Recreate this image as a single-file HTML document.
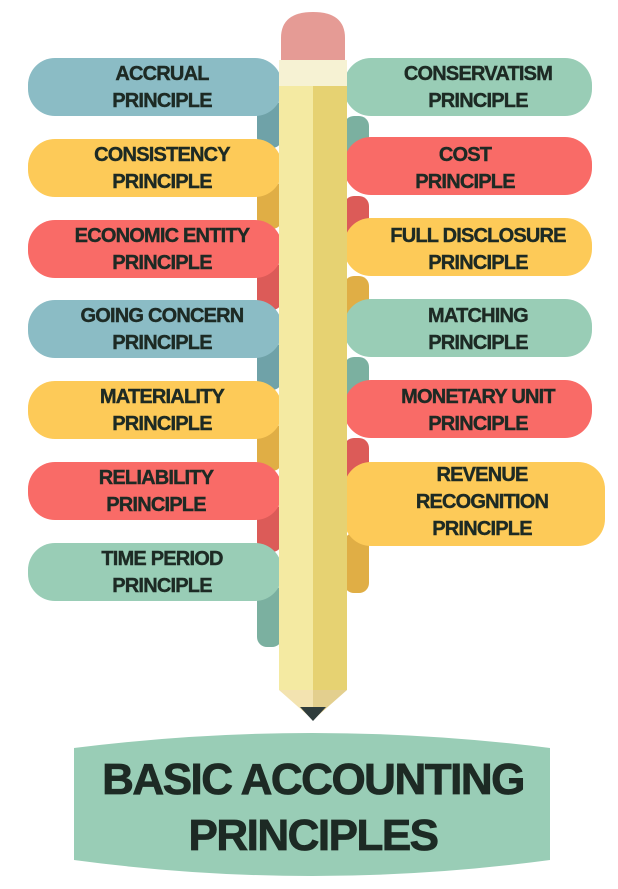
<!DOCTYPE html>
<html><head><style>body{margin:0;background:#fff}svg{display:block}</style></head><body>
<svg width="618" height="889" viewBox="0 0 618 889" xmlns="http://www.w3.org/2000/svg">
<defs><style>text{font-family:"Liberation Sans",sans-serif;font-weight:bold;font-size:20px;fill:#1d2a24;text-anchor:middle;letter-spacing:-0.8px;stroke:#1d2a24;stroke-width:0.4}</style></defs>
<g>
<rect x="257" y="100" width="25" height="48" rx="10" fill="#6fa2a8"/>
<rect x="257" y="181" width="25" height="48" rx="10" fill="#e0ae45"/>
<rect x="257" y="262" width="25" height="48" rx="10" fill="#dc5b58"/>
<rect x="257" y="342" width="25" height="48" rx="10" fill="#6fa2a8"/>
<rect x="257" y="423" width="25" height="48" rx="10" fill="#e0ae45"/>
<rect x="257" y="504" width="25" height="48" rx="10" fill="#dc5b58"/>
<rect x="257" y="585" width="25" height="62" rx="10" fill="#7bb0a0"/>
</g>
<g>
<rect x="344" y="116" width="25" height="48" rx="10" fill="#7bb0a0"/>
<rect x="344" y="196" width="25" height="48" rx="10" fill="#dc5b58"/>
<rect x="344" y="276" width="25" height="48" rx="10" fill="#e0ae45"/>
<rect x="344" y="357" width="25" height="48" rx="10" fill="#7bb0a0"/>
<rect x="344" y="438" width="25" height="48" rx="10" fill="#dc5b58"/>
<rect x="344" y="533" width="25" height="60" rx="10" fill="#e0ae45"/>
</g>
<g>
<rect x="28" y="58" width="254" height="58" rx="27" fill="#8bbcc5"/>
<rect x="28" y="139" width="254" height="58" rx="27" fill="#fdca58"/>
<rect x="28" y="220" width="254" height="58" rx="27" fill="#f96b67"/>
<rect x="28" y="300" width="254" height="58" rx="27" fill="#8bbcc5"/>
<rect x="28" y="381" width="254" height="58" rx="27" fill="#fdca58"/>
<rect x="28" y="462" width="254" height="58" rx="27" fill="#f96b67"/>
<rect x="28" y="543" width="254" height="58" rx="27" fill="#99cdb6"/>
</g>
<g>
<rect x="344" y="58" width="248" height="58" rx="27" fill="#99cdb6"/>
<rect x="344" y="137" width="248" height="58" rx="27" fill="#f96b67"/>
<rect x="344" y="218" width="248" height="58" rx="27" fill="#fdca58"/>
<rect x="344" y="299" width="248" height="58" rx="27" fill="#99cdb6"/>
<rect x="344" y="380" width="248" height="58" rx="27" fill="#f96b67"/>
<rect x="344" y="462" width="261" height="84" rx="27" fill="#fdca58"/>
</g>
<path d="M281 60 L281 38 Q281 12 313 12 Q345 12 345 38 L345 60 Z" fill="#e59b95"/>
<rect x="279" y="60" width="68" height="26" fill="#f6f2d3"/>
<rect x="279" y="86" width="34" height="604" fill="#f4eaa2"/>
<rect x="313" y="86" width="34" height="604" fill="#e6d272"/>
<path d="M279 690 L313 690 L313 720 Z" fill="#f3e3b0"/>
<path d="M313 690 L347 690 L313 720 Z" fill="#e3cf8e"/>
<path d="M300 707 L326 707 L313 721 Z" fill="#2f3c3c"/>
<path d="M74 748 Q312 718 550 748 L550 860 Q312 892 74 860 Z" fill="#99cdb6"/>
<g>
<text x="162" y="80">ACCRUAL</text><text x="162" y="107">PRINCIPLE</text>
<text x="162" y="161">CONSISTENCY</text><text x="162" y="188">PRINCIPLE</text>
<text x="162" y="242">ECONOMIC ENTITY</text><text x="162" y="269">PRINCIPLE</text>
<text x="162" y="322">GOING CONCERN</text><text x="162" y="349">PRINCIPLE</text>
<text x="162" y="403">MATERIALITY</text><text x="162" y="430">PRINCIPLE</text>
<text x="156" y="484">RELIABILITY</text><text x="156" y="511">PRINCIPLE</text>
<text x="162" y="565">TIME PERIOD</text><text x="162" y="592">PRINCIPLE</text>
<text x="478" y="80">CONSERVATISM</text><text x="478" y="107">PRINCIPLE</text>
<text x="465" y="161">COST</text><text x="465" y="188">PRINCIPLE</text>
<text x="478" y="242">FULL DISCLOSURE</text><text x="478" y="269">PRINCIPLE</text>
<text x="478" y="322">MATCHING</text><text x="478" y="349">PRINCIPLE</text>
<text x="478" y="403">MONETARY UNIT</text><text x="478" y="430">PRINCIPLE</text>
<text x="482" y="481">REVENUE</text><text x="482" y="508">RECOGNITION</text><text x="482" y="535">PRINCIPLE</text>
</g>
<text x="313" y="794" style="font-size:44px;letter-spacing:-1.5px;stroke-width:0.8">BASIC ACCOUNTING</text>
<text x="313" y="850" style="font-size:44px;letter-spacing:-1.5px;stroke-width:0.8">PRINCIPLES</text>
</svg>
</body></html>
